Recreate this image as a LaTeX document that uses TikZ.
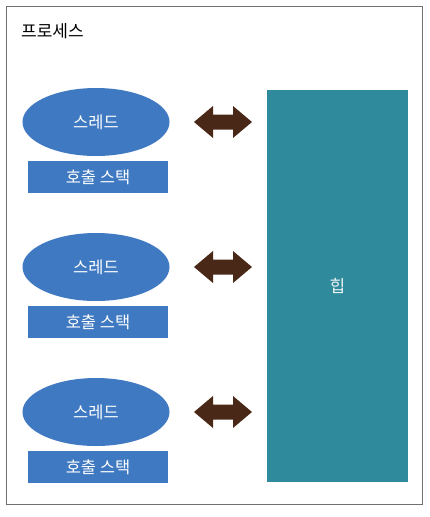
\documentclass[tikz,border=0pt]{standalone}
\usepackage{fontspec}
\usetikzlibrary{shapes.geometric}
\setmainfont{Noto Sans CJK KR}
\definecolor{threadblue}{HTML}{3F79C1}
\definecolor{heapteal}{HTML}{2F8A9C}
\definecolor{arrowbrown}{HTML}{4A2818}
\definecolor{framegray}{HTML}{707070}
\begin{document}
\begin{tikzpicture}[x=1pt,y=-1pt,
  threadnode/.style={ellipse, fill=threadblue, minimum width=147pt, minimum height=68pt, inner sep=0pt, text=white, font=\fontsize{16.5}{19}\selectfont},
  stacknode/.style={rectangle, fill=threadblue, minimum width=140pt, minimum height=32pt, inner sep=0pt, text=white, font=\fontsize{16.5}{19}\selectfont},
  bigarrow/.style={fill=arrowbrown},
]
\useasboundingbox (0,0) rectangle (430,517);
\fill[white] (0,0) rectangle (430,517);
\draw[framegray, line width=1pt] (6,6) rectangle (422,504);
\node[anchor=west, font=\fontsize{17}{20}\selectfont, inner sep=0pt] (title) at (21,31) {프로세스};
\node[rectangle, fill=heapteal, minimum width=141pt, minimum height=392pt, inner sep=0pt, text=white!90!heapteal, font=\fontsize{17}{20}\selectfont] (heap) at (337.5,286) {힙};
\foreach \i/\y in {1/122, 2/267, 3/412} {
  \node[threadnode] (thread\i) at (96,\y) {스레드};
  \node[stacknode, anchor=north] (stack\i) at (98,\y+39) {호출 스택};
  \fill[bigarrow] (194,\y) -- (213,\y-16) -- (213,\y-7.5) -- (233,\y-7.5) -- (233,\y-16) -- (252,\y)
     -- (233,\y+16) -- (233,\y+7.5) -- (213,\y+7.5) -- (213,\y+16) -- cycle;
}
\end{tikzpicture}
\end{document}
